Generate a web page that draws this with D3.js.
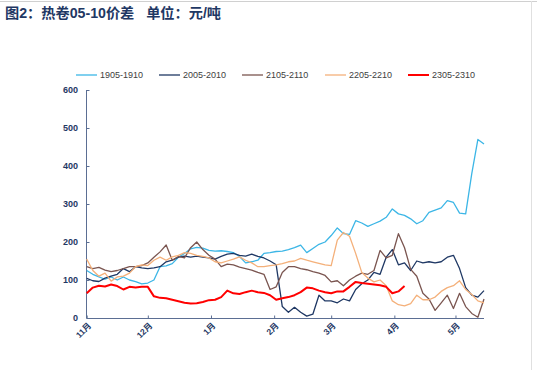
<!DOCTYPE html>
<html>
<head>
<meta charset="utf-8">
<script src="https://cdn.jsdelivr.net/npm/d3@7"></script>
<style>
  body { margin: 0; background: #fff; }
  svg { display: block; font-family: Arial, "Liberation Sans", "Noto Sans CJK SC", sans-serif; }
</style>
</head>
<body>
<svg id="chart" width="537" height="370"></svg>
<script>
// trading dates sampled every 3 days
const dates = ["2022-11-01","2022-11-04","2022-11-07","2022-11-10","2022-11-13","2022-11-16","2022-11-19","2022-11-22","2022-11-25","2022-11-28",
  "2022-12-01","2022-12-04","2022-12-07","2022-12-10","2022-12-13","2022-12-16","2022-12-19","2022-12-22","2022-12-25","2022-12-28",
  "2022-12-31","2023-01-03","2023-01-06","2023-01-09","2023-01-12","2023-01-15","2023-01-18","2023-01-21","2023-01-24","2023-01-27",
  "2023-01-30","2023-02-02","2023-02-05","2023-02-08","2023-02-11","2023-02-14","2023-02-17","2023-02-20","2023-02-23","2023-02-26",
  "2023-03-01","2023-03-04","2023-03-07","2023-03-10","2023-03-13","2023-03-16","2023-03-19","2023-03-22","2023-03-25","2023-03-28",
  "2023-03-31","2023-04-03","2023-04-06","2023-04-09","2023-04-12","2023-04-15","2023-04-18","2023-04-21","2023-04-24","2023-04-27",
  "2023-04-30","2023-05-03","2023-05-06","2023-05-09","2023-05-12","2023-05-15"]

const s1905 = [125,115,108,102,108,100,108,100,96,90, 92,100,135,137,143,160,170,182,186,184,
  178,176,177,175,172,162,145,148,152,170, 172,175,176,180,185,192,172,183,194,200,
  217,237,222,220,256,250,241,248,255,265, 287,274,270,261,248,256,278,284,290,309,
  304,276,274,380,470,458]
const s2005 = [104,98,96,105,110,115,130,122,135,132, 130,132,135,148,152,160,163,160,163,160,
  158,155,162,168,170,165,163,168,162,158, 150,140,30,15,28,15,5,10,60,45,
  45,40,50,45,75,90,100,120,115,160, 180,140,145,125,150,145,148,145,148,160,
  165,130,80,60,55,72]
const s2105 = [135,130,133,126,122,125,130,135,135,138, 145,160,174,192,152,162,158,185,200,180,
  165,155,135,142,140,134,130,126,120,115, 75,82,120,135,135,130,127,122,118,112,
  95,98,85,100,110,118,115,125,178,158, 165,222,185,128,110,65,50,20,40,60,
  25,65,30,12,2,50]
const s2205 = [155,125,110,118,97,108,110,118,135,140, 138,152,160,152,161,165,172,170,165,162,
  158,148,145,150,155,161,152,145,135,135, 138,140,143,148,150,157,152,148,144,140,
  138,205,225,215,170,120,105,95,100,85, 45,35,32,38,60,48,48,55,70,80,
  85,98,75,62,45,40]
const s2305 = [65,80,85,83,88,84,75,82,80,82, 82,57,53,52,48,44,40,38,39,42,
  47,48,55,72,65,63,68,72,68,66, 60,48,52,55,60,68,80,78,72,68,
  65,70,70,82,95,92,90,88,86,82, 65,70,84,null,null,null,null,null,null,null,
  null,null,null,null,null,null]

const seriesNames = ["1905-1910", "2005-2010", "2105-2110", "2205-2210", "2305-2310"]
const seriesValues = [s1905, s2005, s2105, s2205, s2305]
const yTicks = [0, 100, 200, 300, 400, 500, 600]
const monthTicks = ["2022-11-01","2022-12-01","2023-01-01","2023-02-01","2023-03-01","2023-04-01","2023-05-01"]

const colors = ["#3cb6e6", "#1f3864", "#7a5550", "#f4b07a", "#ff0000"]
const widths = [1.3, 1.3, 1.3, 1.3, 2]

const parse = d3.timeParse("%Y-%m-%d")
const svg = d3.select("#chart")
const navy = "#1f3864"
const axisColor = "#5b6e93"

// frame lines
svg.append("line").attr("x1", 0).attr("x2", 537).attr("y1", 1.5).attr("y2", 1.5)
  .attr("stroke", "#d0d0d0").attr("stroke-width", 1)
svg.append("line").attr("x1", 531.5).attr("x2", 531.5).attr("y1", 1).attr("y2", 370)
  .attr("stroke", "#e0e0e0").attr("stroke-width", 1)

svg.append("text")
  .attr("x", 5).attr("y", 18)
  .attr("fill", navy)
  .attr("font-size", 14.2).attr("font-weight", "bold")
  .text("图2：热卷05-10价差   单位：元/吨")
  .style("white-space", "pre")

const x = d3.scaleTime()
  .domain([parse(dates[0]), parse(dates[dates.length - 1])])
  .range([86.7, 484])
const y = d3.scaleLinear().domain([0, 600]).range([318, 90])

// y axis
const yAxis = svg.append("g").attr("transform", "translate(86.5,0)")
  .call(d3.axisRight(y).tickValues(yTicks).tickSize(3).tickFormat(""))
yAxis.selectAll("line, path").attr("stroke", axisColor)
yAxis.select(".domain").attr("d", "M0,90V318")
svg.append("g").selectAll("text").data(yTicks).join("text")
  .attr("x", 78).attr("y", d => y(d)).attr("dy", "0.35em")
  .attr("text-anchor", "end")
  .attr("font-size", 9).attr("font-weight", "bold").attr("fill", navy)
  .text(d => d)

// x axis
const xAxis = svg.append("g").attr("transform", "translate(0,318.5)")
  .call(d3.axisTop(x).tickValues(monthTicks.map(parse)).tickSize(3).tickFormat(""))
xAxis.selectAll("line, path").attr("stroke", axisColor)
xAxis.select(".domain").attr("d", "M86.5,0H484")
svg.append("g").selectAll("text").data(monthTicks).join("text")
  .attr("transform", d => `translate(${x(parse(d)) + 3},324) rotate(-45)`)
  .attr("text-anchor", "end").attr("dy", "0.35em")
  .attr("font-size", 8.5).attr("font-weight", "bold").attr("fill", navy)
  .text(d => (parse(d).getMonth() + 1) + "月")

// lines
const line = d3.line()
  .defined(d => d[1] != null)
  .x(d => x(parse(d[0])))
  .y(d => y(d[1]))

seriesValues.forEach((vals, i) => {
  svg.append("path")
    .datum(dates.map((d, j) => [d, vals[j]]))
    .attr("fill", "none")
    .attr("stroke", colors[i])
    .attr("stroke-width", widths[i])
    .attr("stroke-linejoin", "round")
    .attr("d", line)
})

// legend
const legend = svg.append("g").selectAll("g").data(seriesNames).join("g")
  .attr("transform", (d, i) => `translate(${76 + i * 83},75)`)
legend.append("line").attr("x1", 0).attr("x2", 21).attr("y1", 0).attr("y2", 0)
  .attr("stroke", (d, i) => colors[i]).attr("stroke-width", (d, i) => widths[i])
legend.append("text").attr("x", 24).attr("dy", "0.35em")
  .attr("font-size", 9).attr("fill", "#404040")
  .text(d => d)
</script>
</body>
</html>
